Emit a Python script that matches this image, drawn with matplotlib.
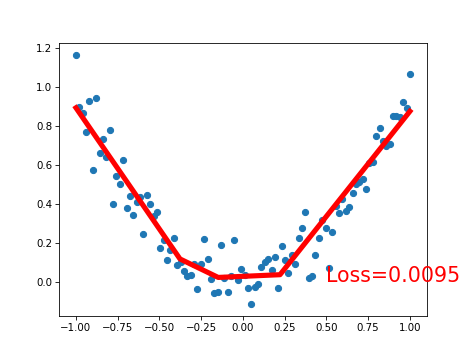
import numpy as np
import matplotlib
matplotlib.use("Agg")
import matplotlib.pyplot as plt

# noisy samples on an evenly spaced grid over [-1, 1]
x_data = np.linspace(-1, 1, 100)
y_data = [
    1.163, 0.897, 0.866, 0.767, 0.926, 0.575, 0.944, 0.658, 0.732, 0.640,
    0.778, 0.399, 0.540, 0.502, 0.624, 0.376, 0.438, 0.342, 0.407, 0.433,
    0.246, 0.445, 0.399, 0.338, 0.355, 0.173, 0.212, 0.112, 0.160, 0.225,
    0.087, 0.100, 0.055, 0.026, 0.035, 0.090, -0.037, 0.090, 0.217, 0.117,
    0.014, -0.061, -0.052, 0.187, 0.017, -0.056, 0.026, 0.213, 0.009, 0.064,
    0.031, -0.031, -0.113, -0.026, -0.014, 0.073, 0.100, 0.117, 0.061, 0.125,
    -0.031, 0.180, 0.112, 0.043, 0.135, 0.090, 0.225, 0.274, 0.355, 0.017,
    0.026, 0.135, 0.225, 0.315, 0.277, 0.069, 0.256, 0.389, 0.350, 0.424,
    0.360, 0.384, 0.453, 0.502, 0.510, 0.524, 0.476, 0.609, 0.614, 0.748,
    0.786, 0.719, 0.696, 0.707, 0.848, 0.848, 0.843, 0.921, 0.891, 1.065,
]

# piecewise-linear network prediction (breakpoints)
x_pred = [-1.0, -0.377, -0.148, 0.222, 1.0]
y_pred = [0.892, 0.116, 0.021, 0.035, 0.874]

loss = 0.0095

fig, ax = plt.subplots(figsize=(474 / 74, 355 / 74), dpi=74)

ax.scatter(x_data, y_data)
ax.plot(x_pred, y_pred, "r-", lw=5)
ax.text(0.5, 0, "Loss=%.4f" % loss, fontdict={"size": 20, "color": "red"})

fig.savefig("out.png", dpi=74)
plt.close(fig)
